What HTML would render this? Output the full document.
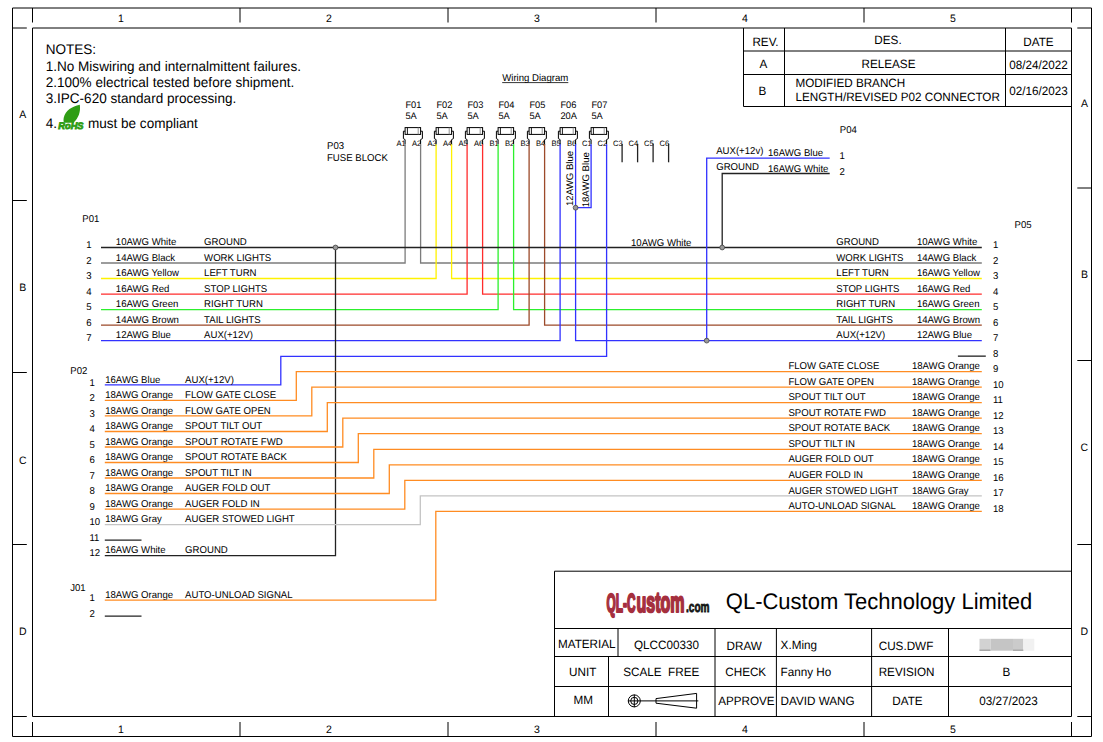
<!DOCTYPE html><html><head><meta charset="utf-8"><style>html,body{margin:0;padding:0;background:#fff;}svg{display:block;}text{font-family:"Liberation Sans", sans-serif;text-rendering:geometricPrecision;}</style></head><body>
<svg width="1103" height="742" viewBox="0 0 1103 742">
<rect width="1103" height="742" fill="#fff"/>
<path d="M12.5,8 H1091.5 V736.5 H12.5 Z" stroke="#000" stroke-width="1" fill="none"/>
<line x1="32.5" y1="28" x2="1071.5" y2="28" stroke="#000" stroke-width="1"/>
<line x1="32.5" y1="28" x2="32.5" y2="716.5" stroke="#000" stroke-width="1"/>
<line x1="1071.5" y1="28" x2="1071.5" y2="716.5" stroke="#000" stroke-width="1"/>
<line x1="32.5" y1="716.5" x2="1071.5" y2="716.5" stroke="#000" stroke-width="1"/>
<line x1="32.5" y1="8" x2="32.5" y2="22.5" stroke="#000" stroke-width="1"/>
<line x1="32.5" y1="722" x2="32.5" y2="736.5" stroke="#000" stroke-width="1"/>
<line x1="240" y1="8" x2="240" y2="22.5" stroke="#000" stroke-width="1"/>
<line x1="240" y1="722" x2="240" y2="736.5" stroke="#000" stroke-width="1"/>
<line x1="448" y1="8" x2="448" y2="22.5" stroke="#000" stroke-width="1"/>
<line x1="448" y1="722" x2="448" y2="736.5" stroke="#000" stroke-width="1"/>
<line x1="656" y1="8" x2="656" y2="22.5" stroke="#000" stroke-width="1"/>
<line x1="656" y1="722" x2="656" y2="736.5" stroke="#000" stroke-width="1"/>
<line x1="864" y1="8" x2="864" y2="22.5" stroke="#000" stroke-width="1"/>
<line x1="864" y1="722" x2="864" y2="736.5" stroke="#000" stroke-width="1"/>
<line x1="1071.5" y1="8" x2="1071.5" y2="22.5" stroke="#000" stroke-width="1"/>
<line x1="1071.5" y1="722" x2="1071.5" y2="736.5" stroke="#000" stroke-width="1"/>
<line x1="12.5" y1="28" x2="26.8" y2="28" stroke="#000" stroke-width="1"/>
<line x1="12.5" y1="200.5" x2="26.8" y2="200.5" stroke="#000" stroke-width="1"/>
<line x1="12.5" y1="372.5" x2="26.8" y2="372.5" stroke="#000" stroke-width="1"/>
<line x1="12.5" y1="544.5" x2="26.8" y2="544.5" stroke="#000" stroke-width="1"/>
<line x1="12.5" y1="716.5" x2="26.8" y2="716.5" stroke="#000" stroke-width="1"/>
<line x1="1077.3" y1="28" x2="1091.5" y2="28" stroke="#000" stroke-width="1"/>
<line x1="1077.3" y1="188" x2="1091.5" y2="188" stroke="#000" stroke-width="1"/>
<line x1="1077.3" y1="360.5" x2="1091.5" y2="360.5" stroke="#000" stroke-width="1"/>
<line x1="1077.3" y1="544.5" x2="1091.5" y2="544.5" stroke="#000" stroke-width="1"/>
<line x1="1077.3" y1="716.5" x2="1091.5" y2="716.5" stroke="#000" stroke-width="1"/>
<text transform="matrix(1,0,0,1.03,121,21.5)" font-size="10.5" text-anchor="middle" fill="#000" >1</text>
<text transform="matrix(1,0,0,1.03,121,733)" font-size="10.5" text-anchor="middle" fill="#000" >1</text>
<text transform="matrix(1,0,0,1.03,329,21.5)" font-size="10.5" text-anchor="middle" fill="#000" >2</text>
<text transform="matrix(1,0,0,1.03,329,733)" font-size="10.5" text-anchor="middle" fill="#000" >2</text>
<text transform="matrix(1,0,0,1.03,537,21.5)" font-size="10.5" text-anchor="middle" fill="#000" >3</text>
<text transform="matrix(1,0,0,1.03,537,733)" font-size="10.5" text-anchor="middle" fill="#000" >3</text>
<text transform="matrix(1,0,0,1.03,745,21.5)" font-size="10.5" text-anchor="middle" fill="#000" >4</text>
<text transform="matrix(1,0,0,1.03,745,733)" font-size="10.5" text-anchor="middle" fill="#000" >4</text>
<text transform="matrix(1,0,0,1.03,953,21.5)" font-size="10.5" text-anchor="middle" fill="#000" >5</text>
<text transform="matrix(1,0,0,1.03,953,733)" font-size="10.5" text-anchor="middle" fill="#000" >5</text>
<text transform="matrix(1,0,0,1.03,22.8,118.3)" font-size="10.5" text-anchor="middle" fill="#000" >A</text>
<text transform="matrix(1,0,0,1.03,22.8,291.0)" font-size="10.5" text-anchor="middle" fill="#000" >B</text>
<text transform="matrix(1,0,0,1.03,22.8,463.6)" font-size="10.5" text-anchor="middle" fill="#000" >C</text>
<text transform="matrix(1,0,0,1.03,22.8,635.1999999999999)" font-size="10.5" text-anchor="middle" fill="#000" >D</text>
<text transform="matrix(1,0,0,1.03,1084.4,106.6)" font-size="10.5" text-anchor="middle" fill="#000" >A</text>
<text transform="matrix(1,0,0,1.03,1084.4,278.40000000000003)" font-size="10.5" text-anchor="middle" fill="#000" >B</text>
<text transform="matrix(1,0,0,1.03,1084.4,451.0)" font-size="10.5" text-anchor="middle" fill="#000" >C</text>
<text transform="matrix(1,0,0,1.03,1084.4,635.1999999999999)" font-size="10.5" text-anchor="middle" fill="#000" >D</text>
<text transform="matrix(1,0,0,1.03,45.7,53.6)" font-size="13.55" fill="#000" >NOTES:</text>
<text transform="matrix(1,0,0,1.03,45.7,70.6)" font-size="13.55" fill="#000" >1.No Miswiring and internalmittent failures.</text>
<text transform="matrix(1,0,0,1.03,45.7,87)" font-size="13.55" fill="#000" >2.100% electrical tested before shipment.</text>
<text transform="matrix(1,0,0,1.03,45.7,103.2)" font-size="13.55" fill="#000" >3.IPC-620 standard processing.</text>
<text transform="matrix(1,0,0,1.03,45.7,128)" font-size="13.55" fill="#000" >4.</text>
<text transform="matrix(1,0,0,1.03,87.9,128)" font-size="13.55" fill="#000" >must be compliant</text>
<path d="M79.8,104.8 C72,106.5 65.5,110.5 63.8,117.5 C63.3,119.5 63.5,121.5 64,122.8 L73.4,122.8 C78.6,118 80.8,112 79.8,104.8 Z" fill="#2f9d14"/>
<text x="58.3" y="128.9" font-size="9.4" font-weight="bold" font-style="italic" fill="#2f9d14" stroke="#2f9d14" stroke-width="0.9" textLength="25.2" lengthAdjust="spacingAndGlyphs">RoHS</text>
<path d="M743.5,28 V106.5 H1071.5" stroke="#000" stroke-width="1" fill="none"/>
<line x1="743.5" y1="51" x2="1071.5" y2="51" stroke="#000" stroke-width="1"/>
<line x1="743.5" y1="74.5" x2="1071.5" y2="74.5" stroke="#000" stroke-width="1"/>
<line x1="784.5" y1="28" x2="784.5" y2="106.5" stroke="#000" stroke-width="1"/>
<line x1="1005.5" y1="28" x2="1005.5" y2="106.5" stroke="#000" stroke-width="1"/>
<text transform="matrix(1,0,0,1.03,765.5,45.8)" font-size="11.7" text-anchor="middle" fill="#000" >REV.</text>
<text transform="matrix(1,0,0,1.03,888,44.1)" font-size="11.7" text-anchor="middle" fill="#000" >DES.</text>
<text transform="matrix(1,0,0,1.03,1038.5,45.5)" font-size="11.7" text-anchor="middle" fill="#000" >DATE</text>
<text transform="matrix(1,0,0,1.03,763.5,67.8)" font-size="11.7" text-anchor="middle" fill="#000" >A</text>
<text transform="matrix(1,0,0,1.03,888.5,67.8)" font-size="11.7" text-anchor="middle" fill="#000" >RELEASE</text>
<text transform="matrix(1,0,0,1.03,1038.5,68.5)" font-size="11.7" text-anchor="middle" fill="#000" >08/24/2022</text>
<text transform="matrix(1,0,0,1.03,762.5,94.8)" font-size="11.7" text-anchor="middle" fill="#000" >B</text>
<text transform="matrix(1,0,0,1.03,795.5,86.7)" font-size="11.7" fill="#000" >MODIFIED BRANCH</text>
<text transform="matrix(1,0,0,1.03,795.5,100.9)" font-size="11.7" fill="#000" >LENGTH/REVISED P02 CONNECTOR</text>
<text transform="matrix(1,0,0,1.03,1038.5,95)" font-size="11.7" text-anchor="middle" fill="#000" >02/16/2023</text>
<text transform="matrix(1,0,0,1.03,502.2,81.1)" font-size="9.6" fill="#000" >Wiring Diagram</text>
<line x1="502.2" y1="82.6" x2="568.3" y2="82.6" stroke="#000" stroke-width="0.8"/>
<text transform="matrix(1,0,0,1.03,327,148.8)" font-size="9.6" fill="#000" >P03</text>
<text transform="matrix(1,0,0,1.03,327,161.2)" font-size="9.6" fill="#000" >FUSE BLOCK</text>
<text transform="matrix(1,0,0,1.03,405.40000000000003,107.8)" font-size="9.3" fill="#000" >F01</text>
<text transform="matrix(1,0,0,1.03,405.40000000000003,118.6)" font-size="9.3" fill="#000" >5A</text>
<rect x="405.1" y="127.6" width="15.5" height="6.8" fill="none" stroke="#000" stroke-width="1"/>
<line x1="407.40000000000003" y1="127.6" x2="407.40000000000003" y2="134.4" stroke="#000" stroke-width="0.9"/>
<line x1="418.20000000000005" y1="127.6" x2="418.20000000000005" y2="134.4" stroke="#888" stroke-width="0.9"/>
<path d="M405.1,131.2 H403.40000000000003 V138.6 L405.1,139.6 V144.3" stroke="#000" stroke-width="1" fill="none"/>
<path d="M420.6,131.2 H422.40000000000003 V138.6 L420.6,139.6 V144.3" stroke="#000" stroke-width="1" fill="none"/>
<text transform="matrix(1,0,0,1.03,436.40000000000003,107.8)" font-size="9.3" fill="#000" >F02</text>
<text transform="matrix(1,0,0,1.03,436.40000000000003,118.6)" font-size="9.3" fill="#000" >5A</text>
<rect x="436.1" y="127.6" width="15.5" height="6.8" fill="none" stroke="#000" stroke-width="1"/>
<line x1="438.40000000000003" y1="127.6" x2="438.40000000000003" y2="134.4" stroke="#000" stroke-width="0.9"/>
<line x1="449.20000000000005" y1="127.6" x2="449.20000000000005" y2="134.4" stroke="#888" stroke-width="0.9"/>
<path d="M436.1,131.2 H434.40000000000003 V138.6 L436.1,139.6 V144.3" stroke="#000" stroke-width="1" fill="none"/>
<path d="M451.6,131.2 H453.40000000000003 V138.6 L451.6,139.6 V144.3" stroke="#000" stroke-width="1" fill="none"/>
<text transform="matrix(1,0,0,1.03,467.40000000000003,107.8)" font-size="9.3" fill="#000" >F03</text>
<text transform="matrix(1,0,0,1.03,467.40000000000003,118.6)" font-size="9.3" fill="#000" >5A</text>
<rect x="467.1" y="127.6" width="15.5" height="6.8" fill="none" stroke="#000" stroke-width="1"/>
<line x1="469.40000000000003" y1="127.6" x2="469.40000000000003" y2="134.4" stroke="#000" stroke-width="0.9"/>
<line x1="480.20000000000005" y1="127.6" x2="480.20000000000005" y2="134.4" stroke="#888" stroke-width="0.9"/>
<path d="M467.1,131.2 H465.40000000000003 V138.6 L467.1,139.6 V144.3" stroke="#000" stroke-width="1" fill="none"/>
<path d="M482.6,131.2 H484.40000000000003 V138.6 L482.6,139.6 V144.3" stroke="#000" stroke-width="1" fill="none"/>
<text transform="matrix(1,0,0,1.03,498.40000000000003,107.8)" font-size="9.3" fill="#000" >F04</text>
<text transform="matrix(1,0,0,1.03,498.40000000000003,118.6)" font-size="9.3" fill="#000" >5A</text>
<rect x="498.1" y="127.6" width="15.5" height="6.8" fill="none" stroke="#000" stroke-width="1"/>
<line x1="500.40000000000003" y1="127.6" x2="500.40000000000003" y2="134.4" stroke="#000" stroke-width="0.9"/>
<line x1="511.20000000000005" y1="127.6" x2="511.20000000000005" y2="134.4" stroke="#888" stroke-width="0.9"/>
<path d="M498.1,131.2 H496.40000000000003 V138.6 L498.1,139.6 V144.3" stroke="#000" stroke-width="1" fill="none"/>
<path d="M513.6,131.2 H515.4 V138.6 L513.6,139.6 V144.3" stroke="#000" stroke-width="1" fill="none"/>
<text transform="matrix(1,0,0,1.03,529.4,107.8)" font-size="9.3" fill="#000" >F05</text>
<text transform="matrix(1,0,0,1.03,529.4,118.6)" font-size="9.3" fill="#000" >5A</text>
<rect x="529.1" y="127.6" width="15.5" height="6.8" fill="none" stroke="#000" stroke-width="1"/>
<line x1="531.4" y1="127.6" x2="531.4" y2="134.4" stroke="#000" stroke-width="0.9"/>
<line x1="542.2" y1="127.6" x2="542.2" y2="134.4" stroke="#888" stroke-width="0.9"/>
<path d="M529.1,131.2 H527.4 V138.6 L529.1,139.6 V144.3" stroke="#000" stroke-width="1" fill="none"/>
<path d="M544.6,131.2 H546.4 V138.6 L544.6,139.6 V144.3" stroke="#000" stroke-width="1" fill="none"/>
<text transform="matrix(1,0,0,1.03,560.4,107.8)" font-size="9.3" fill="#000" >F06</text>
<text transform="matrix(1,0,0,1.03,560.4,118.6)" font-size="9.3" fill="#000" >20A</text>
<rect x="560.1" y="127.6" width="15.5" height="6.8" fill="none" stroke="#000" stroke-width="1"/>
<line x1="562.4" y1="127.6" x2="562.4" y2="134.4" stroke="#000" stroke-width="0.9"/>
<line x1="573.2" y1="127.6" x2="573.2" y2="134.4" stroke="#888" stroke-width="0.9"/>
<path d="M560.1,131.2 H558.4 V138.6 L560.1,139.6 V144.3" stroke="#000" stroke-width="1" fill="none"/>
<path d="M575.6,131.2 H577.4 V138.6 L575.6,139.6 V144.3" stroke="#000" stroke-width="1" fill="none"/>
<text transform="matrix(1,0,0,1.03,591.4,107.8)" font-size="9.3" fill="#000" >F07</text>
<text transform="matrix(1,0,0,1.03,591.4,118.6)" font-size="9.3" fill="#000" >5A</text>
<rect x="591.1" y="127.6" width="15.5" height="6.8" fill="none" stroke="#000" stroke-width="1"/>
<line x1="593.4" y1="127.6" x2="593.4" y2="134.4" stroke="#000" stroke-width="0.9"/>
<line x1="604.2" y1="127.6" x2="604.2" y2="134.4" stroke="#888" stroke-width="0.9"/>
<path d="M591.1,131.2 H589.4 V138.6 L591.1,139.6 V144.3" stroke="#000" stroke-width="1" fill="none"/>
<path d="M606.6,131.2 H608.4 V138.6 L606.6,139.6 V144.3" stroke="#000" stroke-width="1" fill="none"/>
<text transform="matrix(1,0,0,1.03,405.70000000000005,146.1)" font-size="7.6" text-anchor="end" fill="#000" >A1</text>
<text transform="matrix(1,0,0,1.03,421.20000000000005,146.1)" font-size="7.6" text-anchor="end" fill="#000" >A2</text>
<text transform="matrix(1,0,0,1.03,436.70000000000005,146.1)" font-size="7.6" text-anchor="end" fill="#000" >A3</text>
<text transform="matrix(1,0,0,1.03,452.20000000000005,146.1)" font-size="7.6" text-anchor="end" fill="#000" >A4</text>
<text transform="matrix(1,0,0,1.03,467.70000000000005,146.1)" font-size="7.6" text-anchor="end" fill="#000" >A5</text>
<text transform="matrix(1,0,0,1.03,483.20000000000005,146.1)" font-size="7.6" text-anchor="end" fill="#000" >A6</text>
<text transform="matrix(1,0,0,1.03,498.70000000000005,146.1)" font-size="7.6" text-anchor="end" fill="#000" >B1</text>
<text transform="matrix(1,0,0,1.03,514.2,146.1)" font-size="7.6" text-anchor="end" fill="#000" >B2</text>
<text transform="matrix(1,0,0,1.03,529.7,146.1)" font-size="7.6" text-anchor="end" fill="#000" >B3</text>
<text transform="matrix(1,0,0,1.03,545.2,146.1)" font-size="7.6" text-anchor="end" fill="#000" >B4</text>
<text transform="matrix(1,0,0,1.03,560.7,146.1)" font-size="7.6" text-anchor="end" fill="#000" >B5</text>
<text transform="matrix(1,0,0,1.03,576.2,146.1)" font-size="7.6" text-anchor="end" fill="#000" >B6</text>
<text transform="matrix(1,0,0,1.03,591.7,146.1)" font-size="7.6" text-anchor="end" fill="#000" >C1</text>
<text transform="matrix(1,0,0,1.03,607.2,146.1)" font-size="7.6" text-anchor="end" fill="#000" >C2</text>
<text transform="matrix(1,0,0,1.03,622.7,146.1)" font-size="7.6" text-anchor="end" fill="#000" >C3</text>
<text transform="matrix(1,0,0,1.03,638.2,146.1)" font-size="7.6" text-anchor="end" fill="#000" >C4</text>
<text transform="matrix(1,0,0,1.03,653.7,146.1)" font-size="7.6" text-anchor="end" fill="#000" >C5</text>
<text transform="matrix(1,0,0,1.03,669.2,146.1)" font-size="7.6" text-anchor="end" fill="#000" >C6</text>
<line x1="622.1" y1="143.8" x2="622.1" y2="162.3" stroke="#222" stroke-width="1.3"/>
<line x1="637.6" y1="143.8" x2="637.6" y2="162.3" stroke="#222" stroke-width="1.3"/>
<line x1="653.1" y1="143.8" x2="653.1" y2="162.3" stroke="#222" stroke-width="1.3"/>
<line x1="668.6" y1="143.8" x2="668.6" y2="162.3" stroke="#222" stroke-width="1.3"/>
<path d="M101.0,263.0 H405.1 V144.3" stroke="#7c7c7c" stroke-width="1.3" fill="none"/>
<path d="M420.6,144.3 V263.0 H981.8" stroke="#7c7c7c" stroke-width="1.3" fill="none"/>
<path d="M101.0,278.5 H436.1 V144.3" stroke="#fff200" stroke-width="1.3" fill="none"/>
<path d="M451.6,144.3 V278.5 H981.8" stroke="#fff200" stroke-width="1.3" fill="none"/>
<path d="M101.0,294.1 H467.1 V144.3" stroke="#ff2c2c" stroke-width="1.3" fill="none"/>
<path d="M482.6,144.3 V294.1 H981.8" stroke="#ff2c2c" stroke-width="1.3" fill="none"/>
<path d="M101.0,309.6 H498.1 V144.3" stroke="#2cf02c" stroke-width="1.3" fill="none"/>
<path d="M513.6,144.3 V309.6 H981.8" stroke="#2cf02c" stroke-width="1.3" fill="none"/>
<path d="M101.0,325.1 H529.1 V144.3" stroke="#9c4a2a" stroke-width="1.3" fill="none"/>
<path d="M544.6,144.3 V325.1 H981.8" stroke="#9c4a2a" stroke-width="1.3" fill="none"/>
<path d="M101.0,340.6 H560.1 V144.3" stroke="#3232ff" stroke-width="1.3" fill="none"/>
<path d="M575.6,144.3 V340.6 H981.8" stroke="#3232ff" stroke-width="1.3" fill="none"/>
<line x1="101.0" y1="247.5" x2="981.8" y2="247.5" stroke="#222" stroke-width="1.3"/>
<path d="M575.6,207.7 H591.1 V144.3" stroke="#3232ff" stroke-width="1.3" fill="none"/>
<path d="M606.6,144.3 V356.4 H280.8 V384.9 H104.8" stroke="#3232ff" stroke-width="1.3" fill="none"/>
<path d="M706.7,340.6 V158.2 H829.7" stroke="#3232ff" stroke-width="1.3" fill="none"/>
<path d="M722.2,247.5 V173.5 H829.7" stroke="#222" stroke-width="1.3" fill="none"/>
<path d="M335.5,247.5 V555.6 H104.8" stroke="#222" stroke-width="1.3" fill="none"/>
<path d="M104.8,400.4 H296.3 V371.7 H981.8" stroke="#ff8c22" stroke-width="1.3" fill="none"/>
<path d="M104.8,415.9 H311.8 V387.2 H981.8" stroke="#ff8c22" stroke-width="1.3" fill="none"/>
<path d="M104.8,431.5 H327.3 V402.7 H981.8" stroke="#ff8c22" stroke-width="1.3" fill="none"/>
<path d="M104.8,447.0 H342.8 V418.2 H981.8" stroke="#ff8c22" stroke-width="1.3" fill="none"/>
<path d="M104.8,462.5 H358.3 V433.7 H981.8" stroke="#ff8c22" stroke-width="1.3" fill="none"/>
<path d="M104.8,478.0 H373.8 V449.3 H981.8" stroke="#ff8c22" stroke-width="1.3" fill="none"/>
<path d="M104.8,493.5 H389.3 V464.8 H981.8" stroke="#ff8c22" stroke-width="1.3" fill="none"/>
<path d="M104.8,509.1 H404.8 V480.3 H981.8" stroke="#ff8c22" stroke-width="1.3" fill="none"/>
<path d="M104.8,524.6 H420.3 V495.8 H981.8" stroke="#c4c4c4" stroke-width="1.3" fill="none"/>
<path d="M104.8,600.1 H435.8 V511.3 H981.8" stroke="#ff8c22" stroke-width="1.3" fill="none"/>
<line x1="104.8" y1="540.0999999999999" x2="141.5" y2="540.0999999999999" stroke="#222" stroke-width="1.3"/>
<line x1="104.8" y1="616.2" x2="141.5" y2="616.2" stroke="#222" stroke-width="1.3"/>
<line x1="957.9" y1="356.14" x2="985.8" y2="356.14" stroke="#222" stroke-width="1.3"/>
<circle cx="335.5" cy="247.5" r="2.4" fill="#999" stroke="#444" stroke-width="0.8"/>
<circle cx="722.2" cy="247.5" r="2.4" fill="#999" stroke="#444" stroke-width="0.8"/>
<circle cx="706.7" cy="340.62" r="2.4" fill="#999" stroke="#444" stroke-width="0.8"/>
<circle cx="575.6" cy="207.7" r="2.4" fill="#999" stroke="#444" stroke-width="0.8"/>
<text transform="translate(573.4,206) rotate(-90)" font-size="9.6">12AWG Blue</text>
<text transform="translate(589.4,207.3) rotate(-90)" font-size="9.6">18AWG Blue</text>
<text transform="matrix(1,0,0,1.03,839.8,132.8)" font-size="9.6" fill="#000" >P04</text>
<text transform="matrix(1,0,0,1.03,716.2,154.4)" font-size="9.6" fill="#000" >AUX(+12v)</text>
<text transform="matrix(1,0,0,1.03,768,156.2)" font-size="9.6" fill="#000" >16AWG Blue</text>
<text transform="matrix(1,0,0,1.03,716.2,170.4)" font-size="9.6" fill="#000" >GROUND</text>
<text transform="matrix(1,0,0,1.03,768,172.2)" font-size="9.6" fill="#000" >16AWG White</text>
<text transform="matrix(1,0,0,1.03,839.5,159)" font-size="9.6" fill="#000" >1</text>
<text transform="matrix(1,0,0,1.03,839.5,174.7)" font-size="9.6" fill="#000" >2</text>
<text transform="matrix(1,0,0,1.03,631,245.7)" font-size="9.6" fill="#000" >10AWG White</text>
<text transform="matrix(1,0,0,1.03,82.3,222.3)" font-size="9.6" fill="#000" >P01</text>
<text transform="matrix(1,0,0,1.03,115.8,245.3)" font-size="9.6" fill="#000" >10AWG White</text>
<text transform="matrix(1,0,0,1.03,204.1,245.3)" font-size="9.6" fill="#000" >GROUND</text>
<text transform="matrix(1,0,0,1.03,86.2,248.0)" font-size="9.6" fill="#000" >1</text>
<text transform="matrix(1,0,0,1.03,115.8,260.82)" font-size="9.6" fill="#000" >14AWG Black</text>
<text transform="matrix(1,0,0,1.03,204.1,260.82)" font-size="9.6" fill="#000" >WORK LIGHTS</text>
<text transform="matrix(1,0,0,1.03,86.2,263.52)" font-size="9.6" fill="#000" >2</text>
<text transform="matrix(1,0,0,1.03,115.8,276.34000000000003)" font-size="9.6" fill="#000" >16AWG Yellow</text>
<text transform="matrix(1,0,0,1.03,204.1,276.34000000000003)" font-size="9.6" fill="#000" >LEFT TURN</text>
<text transform="matrix(1,0,0,1.03,86.2,279.04)" font-size="9.6" fill="#000" >3</text>
<text transform="matrix(1,0,0,1.03,115.8,291.86)" font-size="9.6" fill="#000" >16AWG Red</text>
<text transform="matrix(1,0,0,1.03,204.1,291.86)" font-size="9.6" fill="#000" >STOP LIGHTS</text>
<text transform="matrix(1,0,0,1.03,86.2,294.56)" font-size="9.6" fill="#000" >4</text>
<text transform="matrix(1,0,0,1.03,115.8,307.38)" font-size="9.6" fill="#000" >16AWG Green</text>
<text transform="matrix(1,0,0,1.03,204.1,307.38)" font-size="9.6" fill="#000" >RIGHT TURN</text>
<text transform="matrix(1,0,0,1.03,86.2,310.08)" font-size="9.6" fill="#000" >5</text>
<text transform="matrix(1,0,0,1.03,115.8,322.90000000000003)" font-size="9.6" fill="#000" >14AWG Brown</text>
<text transform="matrix(1,0,0,1.03,204.1,322.90000000000003)" font-size="9.6" fill="#000" >TAIL LIGHTS</text>
<text transform="matrix(1,0,0,1.03,86.2,325.6)" font-size="9.6" fill="#000" >6</text>
<text transform="matrix(1,0,0,1.03,115.8,338.42)" font-size="9.6" fill="#000" >12AWG Blue</text>
<text transform="matrix(1,0,0,1.03,204.1,338.42)" font-size="9.6" fill="#000" >AUX(+12V)</text>
<text transform="matrix(1,0,0,1.03,86.2,341.12)" font-size="9.6" fill="#000" >7</text>
<text transform="matrix(1,0,0,1.03,1014.5,227.8)" font-size="9.6" fill="#000" >P05</text>
<text transform="matrix(1,0,0,1.03,836.3,245.2)" font-size="9.6" fill="#000" >GROUND</text>
<text transform="matrix(1,0,0,1.03,916.9,245.2)" font-size="9.6" fill="#000" >10AWG White</text>
<text transform="matrix(1,0,0,1.03,836.3,260.71999999999997)" font-size="9.6" fill="#000" >WORK LIGHTS</text>
<text transform="matrix(1,0,0,1.03,916.9,260.71999999999997)" font-size="9.6" fill="#000" >14AWG Black</text>
<text transform="matrix(1,0,0,1.03,836.3,276.24)" font-size="9.6" fill="#000" >LEFT TURN</text>
<text transform="matrix(1,0,0,1.03,916.9,276.24)" font-size="9.6" fill="#000" >16AWG Yellow</text>
<text transform="matrix(1,0,0,1.03,836.3,291.76)" font-size="9.6" fill="#000" >STOP LIGHTS</text>
<text transform="matrix(1,0,0,1.03,916.9,291.76)" font-size="9.6" fill="#000" >16AWG Red</text>
<text transform="matrix(1,0,0,1.03,836.3,307.28)" font-size="9.6" fill="#000" >RIGHT TURN</text>
<text transform="matrix(1,0,0,1.03,916.9,307.28)" font-size="9.6" fill="#000" >16AWG Green</text>
<text transform="matrix(1,0,0,1.03,836.3,322.8)" font-size="9.6" fill="#000" >TAIL LIGHTS</text>
<text transform="matrix(1,0,0,1.03,916.9,322.8)" font-size="9.6" fill="#000" >14AWG Brown</text>
<text transform="matrix(1,0,0,1.03,836.3,338.32)" font-size="9.6" fill="#000" >AUX(+12V)</text>
<text transform="matrix(1,0,0,1.03,916.9,338.32)" font-size="9.6" fill="#000" >12AWG Blue</text>
<text transform="matrix(1,0,0,1.03,788.4,369.35999999999996)" font-size="9.6" fill="#000" >FLOW GATE CLOSE</text>
<text transform="matrix(1,0,0,1.03,911.9,369.35999999999996)" font-size="9.6" fill="#000" >18AWG Orange</text>
<text transform="matrix(1,0,0,1.03,788.4,384.88)" font-size="9.6" fill="#000" >FLOW GATE OPEN</text>
<text transform="matrix(1,0,0,1.03,911.9,384.88)" font-size="9.6" fill="#000" >18AWG Orange</text>
<text transform="matrix(1,0,0,1.03,788.4,400.4)" font-size="9.6" fill="#000" >SPOUT TILT OUT</text>
<text transform="matrix(1,0,0,1.03,911.9,400.4)" font-size="9.6" fill="#000" >18AWG Orange</text>
<text transform="matrix(1,0,0,1.03,788.4,415.92)" font-size="9.6" fill="#000" >SPOUT ROTATE FWD</text>
<text transform="matrix(1,0,0,1.03,911.9,415.92)" font-size="9.6" fill="#000" >18AWG Orange</text>
<text transform="matrix(1,0,0,1.03,788.4,431.44)" font-size="9.6" fill="#000" >SPOUT ROTATE BACK</text>
<text transform="matrix(1,0,0,1.03,911.9,431.44)" font-size="9.6" fill="#000" >18AWG Orange</text>
<text transform="matrix(1,0,0,1.03,788.4,446.96)" font-size="9.6" fill="#000" >SPOUT TILT IN</text>
<text transform="matrix(1,0,0,1.03,911.9,446.96)" font-size="9.6" fill="#000" >18AWG Orange</text>
<text transform="matrix(1,0,0,1.03,788.4,462.47999999999996)" font-size="9.6" fill="#000" >AUGER FOLD OUT</text>
<text transform="matrix(1,0,0,1.03,911.9,462.47999999999996)" font-size="9.6" fill="#000" >18AWG Orange</text>
<text transform="matrix(1,0,0,1.03,788.4,477.99999999999994)" font-size="9.6" fill="#000" >AUGER FOLD IN</text>
<text transform="matrix(1,0,0,1.03,911.9,477.99999999999994)" font-size="9.6" fill="#000" >18AWG Orange</text>
<text transform="matrix(1,0,0,1.03,788.4,493.52)" font-size="9.6" fill="#000" >AUGER STOWED LIGHT</text>
<text transform="matrix(1,0,0,1.03,911.9,493.52)" font-size="9.6" fill="#000" >18AWG Gray</text>
<text transform="matrix(1,0,0,1.03,788.4,509.03999999999996)" font-size="9.6" fill="#000" >AUTO-UNLOAD SIGNAL</text>
<text transform="matrix(1,0,0,1.03,911.9,509.03999999999996)" font-size="9.6" fill="#000" >18AWG Orange</text>
<text transform="matrix(1,0,0,1.03,993,248.1)" font-size="9.6" fill="#000" >1</text>
<text transform="matrix(1,0,0,1.03,993,263.62)" font-size="9.6" fill="#000" >2</text>
<text transform="matrix(1,0,0,1.03,993,279.14000000000004)" font-size="9.6" fill="#000" >3</text>
<text transform="matrix(1,0,0,1.03,993,294.66)" font-size="9.6" fill="#000" >4</text>
<text transform="matrix(1,0,0,1.03,993,310.18)" font-size="9.6" fill="#000" >5</text>
<text transform="matrix(1,0,0,1.03,993,325.70000000000005)" font-size="9.6" fill="#000" >6</text>
<text transform="matrix(1,0,0,1.03,993,341.22)" font-size="9.6" fill="#000" >7</text>
<text transform="matrix(1,0,0,1.03,993,356.74)" font-size="9.6" fill="#000" >8</text>
<text transform="matrix(1,0,0,1.03,993,372.26)" font-size="9.6" fill="#000" >9</text>
<text transform="matrix(1,0,0,1.03,993,387.78000000000003)" font-size="9.6" fill="#000" >10</text>
<text transform="matrix(1,0,0,1.03,993,403.3)" font-size="9.6" fill="#000" >11</text>
<text transform="matrix(1,0,0,1.03,993,418.82000000000005)" font-size="9.6" fill="#000" >12</text>
<text transform="matrix(1,0,0,1.03,993,434.34000000000003)" font-size="9.6" fill="#000" >13</text>
<text transform="matrix(1,0,0,1.03,993,449.86)" font-size="9.6" fill="#000" >14</text>
<text transform="matrix(1,0,0,1.03,993,465.38)" font-size="9.6" fill="#000" >15</text>
<text transform="matrix(1,0,0,1.03,993,480.9)" font-size="9.6" fill="#000" >16</text>
<text transform="matrix(1,0,0,1.03,993,496.42)" font-size="9.6" fill="#000" >17</text>
<text transform="matrix(1,0,0,1.03,993,511.94)" font-size="9.6" fill="#000" >18</text>
<text transform="matrix(1,0,0,1.03,70.3,373.8)" font-size="9.6" fill="#000" >P02</text>
<text transform="matrix(1,0,0,1.03,105.2,382.7)" font-size="9.6" fill="#000" >16AWG Blue</text>
<text transform="matrix(1,0,0,1.03,185.1,382.7)" font-size="9.6" fill="#000" >AUX(+12V)</text>
<text transform="matrix(1,0,0,1.03,89.5,385.5)" font-size="9.6" fill="#000" >1</text>
<text transform="matrix(1,0,0,1.03,105.2,398.21999999999997)" font-size="9.6" fill="#000" >18AWG Orange</text>
<text transform="matrix(1,0,0,1.03,185.1,398.21999999999997)" font-size="9.6" fill="#000" >FLOW GATE CLOSE</text>
<text transform="matrix(1,0,0,1.03,89.5,401.02)" font-size="9.6" fill="#000" >2</text>
<text transform="matrix(1,0,0,1.03,105.2,413.74)" font-size="9.6" fill="#000" >18AWG Orange</text>
<text transform="matrix(1,0,0,1.03,185.1,413.74)" font-size="9.6" fill="#000" >FLOW GATE OPEN</text>
<text transform="matrix(1,0,0,1.03,89.5,416.54)" font-size="9.6" fill="#000" >3</text>
<text transform="matrix(1,0,0,1.03,105.2,429.26)" font-size="9.6" fill="#000" >18AWG Orange</text>
<text transform="matrix(1,0,0,1.03,185.1,429.26)" font-size="9.6" fill="#000" >SPOUT TILT OUT</text>
<text transform="matrix(1,0,0,1.03,89.5,432.06)" font-size="9.6" fill="#000" >4</text>
<text transform="matrix(1,0,0,1.03,105.2,444.78)" font-size="9.6" fill="#000" >18AWG Orange</text>
<text transform="matrix(1,0,0,1.03,185.1,444.78)" font-size="9.6" fill="#000" >SPOUT ROTATE FWD</text>
<text transform="matrix(1,0,0,1.03,89.5,447.58)" font-size="9.6" fill="#000" >5</text>
<text transform="matrix(1,0,0,1.03,105.2,460.3)" font-size="9.6" fill="#000" >18AWG Orange</text>
<text transform="matrix(1,0,0,1.03,185.1,460.3)" font-size="9.6" fill="#000" >SPOUT ROTATE BACK</text>
<text transform="matrix(1,0,0,1.03,89.5,463.1)" font-size="9.6" fill="#000" >6</text>
<text transform="matrix(1,0,0,1.03,105.2,475.82)" font-size="9.6" fill="#000" >18AWG Orange</text>
<text transform="matrix(1,0,0,1.03,185.1,475.82)" font-size="9.6" fill="#000" >SPOUT TILT IN</text>
<text transform="matrix(1,0,0,1.03,89.5,478.62)" font-size="9.6" fill="#000" >7</text>
<text transform="matrix(1,0,0,1.03,105.2,491.34)" font-size="9.6" fill="#000" >18AWG Orange</text>
<text transform="matrix(1,0,0,1.03,185.1,491.34)" font-size="9.6" fill="#000" >AUGER FOLD OUT</text>
<text transform="matrix(1,0,0,1.03,89.5,494.14)" font-size="9.6" fill="#000" >8</text>
<text transform="matrix(1,0,0,1.03,105.2,506.85999999999996)" font-size="9.6" fill="#000" >18AWG Orange</text>
<text transform="matrix(1,0,0,1.03,185.1,506.85999999999996)" font-size="9.6" fill="#000" >AUGER FOLD IN</text>
<text transform="matrix(1,0,0,1.03,89.5,509.65999999999997)" font-size="9.6" fill="#000" >9</text>
<text transform="matrix(1,0,0,1.03,105.2,522.3799999999999)" font-size="9.6" fill="#000" >18AWG Gray</text>
<text transform="matrix(1,0,0,1.03,185.1,522.3799999999999)" font-size="9.6" fill="#000" >AUGER STOWED LIGHT</text>
<text transform="matrix(1,0,0,1.03,89.5,525.18)" font-size="9.6" fill="#000" >10</text>
<text transform="matrix(1,0,0,1.03,89.5,540.6999999999999)" font-size="9.6" fill="#000" >11</text>
<text transform="matrix(1,0,0,1.03,105.2,553.42)" font-size="9.6" fill="#000" >16AWG White</text>
<text transform="matrix(1,0,0,1.03,185.1,553.42)" font-size="9.6" fill="#000" >GROUND</text>
<text transform="matrix(1,0,0,1.03,89.5,556.22)" font-size="9.6" fill="#000" >12</text>
<text transform="matrix(1,0,0,1.03,70.2,590.7)" font-size="9.6" fill="#000" >J01</text>
<text transform="matrix(1,0,0,1.03,105.2,597.9)" font-size="9.6" fill="#000" >18AWG Orange</text>
<text transform="matrix(1,0,0,1.03,185.1,597.9)" font-size="9.6" fill="#000" >AUTO-UNLOAD SIGNAL</text>
<text transform="matrix(1,0,0,1.03,89.5,600.7)" font-size="9.6" fill="#000" >1</text>
<text transform="matrix(1,0,0,1.03,89.5,616.8)" font-size="9.6" fill="#000" >2</text>
<path d="M554.5,716.5 V571.2 H1071.5" stroke="#000" stroke-width="1" fill="none"/>
<line x1="554.5" y1="628.5" x2="1071.5" y2="628.5" stroke="#000" stroke-width="1"/>
<line x1="554.5" y1="656.5" x2="1071.5" y2="656.5" stroke="#000" stroke-width="1"/>
<line x1="554.5" y1="686.5" x2="1071.5" y2="686.5" stroke="#000" stroke-width="1"/>
<line x1="618" y1="628.5" x2="618" y2="656.5" stroke="#000" stroke-width="1"/>
<line x1="608.5" y1="656.5" x2="608.5" y2="716.5" stroke="#000" stroke-width="1"/>
<line x1="715" y1="628.5" x2="715" y2="716.5" stroke="#000" stroke-width="1"/>
<line x1="776.4" y1="628.5" x2="776.4" y2="716.5" stroke="#000" stroke-width="1"/>
<line x1="871.6" y1="628.5" x2="871.6" y2="716.5" stroke="#000" stroke-width="1"/>
<line x1="948.5" y1="628.5" x2="948.5" y2="716.5" stroke="#000" stroke-width="1"/>
<text transform="matrix(1,0,0,1.03,586.8,648)" font-size="11.7" text-anchor="middle" fill="#000" >MATERIAL</text>
<text transform="matrix(1,0,0,1.03,666.4,648.5)" font-size="11.7" text-anchor="middle" fill="#000" >QLCC00330</text>
<text transform="matrix(1,0,0,1.03,744.2,649.8)" font-size="11.7" text-anchor="middle" fill="#000" >DRAW</text>
<text transform="matrix(1,0,0,1.03,780.6,648.8)" font-size="11.7" fill="#000" >X.Ming</text>
<text transform="matrix(1,0,0,1.03,906,649.5)" font-size="11.7" text-anchor="middle" fill="#000" >CUS.DWF</text>
<text transform="matrix(1,0,0,1.03,582.7,675.5)" font-size="11.7" text-anchor="middle" fill="#000" >UNIT</text>
<text transform="matrix(1,0,0,1.03,661.3,676)" font-size="11.7" text-anchor="middle" fill="#000"  xml:space="preserve">SCALE  FREE</text>
<text transform="matrix(1,0,0,1.03,745.7,676)" font-size="11.7" text-anchor="middle" fill="#000" >CHECK</text>
<text transform="matrix(1,0,0,1.03,780.6,676.3)" font-size="11.7" fill="#000" >Fanny Ho</text>
<text transform="matrix(1,0,0,1.03,906.6,676)" font-size="11.7" text-anchor="middle" fill="#000" >REVISION</text>
<text transform="matrix(1,0,0,1.03,1006.4,676.3)" font-size="11.7" text-anchor="middle" fill="#000" >B</text>
<text transform="matrix(1,0,0,1.03,583.3,703.9)" font-size="11.7" text-anchor="middle" fill="#000" >MM</text>
<text transform="matrix(1,0,0,1.03,746.4,704.6)" font-size="11.7" text-anchor="middle" fill="#000" >APPROVE</text>
<text transform="matrix(1,0,0,1.03,780.6,705)" font-size="11.7" fill="#000" >DAVID WANG</text>
<text transform="matrix(1,0,0,1.03,907.5,705.4)" font-size="11.7" text-anchor="middle" fill="#000" >DATE</text>
<text transform="matrix(1,0,0,1.03,1008.5,705.4)" font-size="11.7" text-anchor="middle" fill="#000" >03/27/2023</text>
<rect x="979.5" y="638.8" width="11" height="11.9" fill="#d2d2d2"/>
<rect x="990.5" y="638.8" width="22.5" height="11.9" fill="#c5c5c5"/>
<rect x="1013" y="638.8" width="10.3" height="11.9" fill="#cbcbcb"/>
<rect x="1023.3" y="638.8" width="11" height="11.9" fill="#f1f1f1"/>
<rect x="979.5" y="649.6" width="11" height="1.2" fill="#9a9a9a"/>
<rect x="1013" y="649.6" width="10.3" height="1.2" fill="#a0a0a0"/>
<circle cx="634.3" cy="700.9" r="6" fill="none" stroke="#000" stroke-width="1"/>
<circle cx="634.3" cy="700.9" r="3.6" fill="none" stroke="#000" stroke-width="1"/>
<line x1="627.9" y1="700.9" x2="698.3" y2="700.9" stroke="#000" stroke-width="1"/>
<line x1="634.3" y1="694.6" x2="634.3" y2="707.2" stroke="#000" stroke-width="1"/>
<path d="M656,698.6 L696.6,693.4 V708.2 L656,703.2 Z" stroke="#000" stroke-width="1" fill="none"/>
<text transform="matrix(1,0,0,1.03,725.8,608.6)" font-size="22" fill="#000" >QL-Custom Technology Limited</text>
<text x="606.6" y="611.8" font-size="26" font-weight="bold" fill="#a52f3e" stroke="#a52f3e" stroke-width="2.1" stroke-linejoin="round" textLength="29" lengthAdjust="spacingAndGlyphs">QL-C</text>
<text x="636.6" y="611.8" font-size="28.5" font-weight="bold" fill="#a52f3e" stroke="#a52f3e" stroke-width="2.1" stroke-linejoin="round" textLength="48" lengthAdjust="spacingAndGlyphs">ustom</text>
<text x="686" y="611.6" font-size="15" font-weight="bold" fill="#111" stroke="#111" stroke-width="0.8" textLength="23.5" lengthAdjust="spacingAndGlyphs">.com</text>
</svg></body></html>
